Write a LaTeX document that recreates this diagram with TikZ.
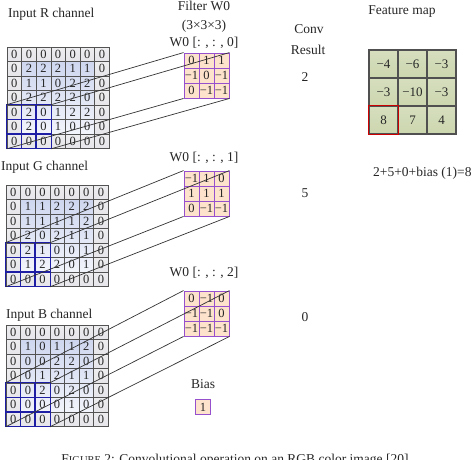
\documentclass[tikz,border=0pt]{standalone}
\usepackage{fontspec}
\setmainfont{Liberation Serif}
\usetikzlibrary{positioning}

\definecolor{inblue}{RGB}{184,196,232}
\definecolor{inedge}{RGB}{230,230,234}
\definecolor{filtfill}{RGB}{253,226,204}
\definecolor{filtline}{RGB}{150,80,205}
\definecolor{winblue}{RGB}{30,30,165}
\definecolor{fmfill}{RGB}{204,214,174}
\definecolor{fmline}{RGB}{80,80,80}

\tikzset{
  lab/.style={inner sep=0pt, text=black!85, font=\fontsize{13.5}{15}\selectfont},
  incell/.style={draw=gray!65!black, line width=0.6pt, minimum width=14.6pt,
    minimum height=14.5pt, inner sep=0pt, text=black!85, font=\fontsize{12.5}{13}\selectfont},
  filtcell/.style={draw=filtline, fill=filtfill, line width=0.9pt, minimum size=15pt,
    inner sep=0pt, text=black!85, font=\fontsize{12.5}{13}\selectfont},
  fmcell/.style={draw=fmline, line width=1.1pt, minimum width=29pt, minimum height=28pt,
    inner sep=0pt, top color=fmfill!80!white, bottom color=fmfill, text=black!85,
    font=\fontsize{13}{14}\selectfont},
  winline/.style={draw=winblue, line width=1pt},
  proj/.style={draw=black!80, line width=0.7pt}
}

% 7x7 input channel: name, left, top, rows
\newcommand{\inputgrid}[4]{
  \foreach \row [count=\r from 0] in {#4} {
    \foreach \v [count=\c from 0] in \row {
      \pgfmathtruncatemacro{\rim}{(\r==0)||(\r==6)||(\c==0)||(\c==6)}
      \pgfmathtruncatemacro{\pct}{78-10*\r}
      \pgfmathtruncatemacro{\pcb}{68-10*\r}
      \ifnum\rim=1
        \node[incell, top color=inedge!70!white, bottom color=inedge] (#1-\r-\c)
          at ({#2+14.6*(\c+0.5)},{#3+14.5*(\r+0.5)}) {\v};
      \else
        \node[incell, top color=inblue!\pct!white, bottom color=inblue!\pcb!white] (#1-\r-\c)
          at ({#2+14.6*(\c+0.5)},{#3+14.5*(\r+0.5)}) {\v};
      \fi
    }
  }
  \foreach \r in {4,5,6}
    \foreach \c in {0,1,2}
      \draw[winline] (#1-\r-\c.north west) rectangle (#1-\r-\c.south east);
}

% 3x3 filter slice: name, left, top, rows
\newcommand{\filtgrid}[4]{
  \foreach \row [count=\r from 0] in {#4} {
    \foreach \v [count=\c from 0] in \row {
      \node[filtcell] (#1-\r-\c) at ({#2+15*(\c+0.5)},{#3+15*(\r+0.5)}) {\v};
    }
  }
}

\begin{document}
\begin{tikzpicture}[x=1pt, y=-1pt]
\useasboundingbox (0,0) rectangle (474,459);

% input channels
\node[lab, anchor=west] (labR) at (8,14) {Input R channel};
\inputgrid{R}{7}{47}{{0,0,0,0,0,0,0},{0,2,2,2,1,1,0},{0,1,1,0,2,2,0},{0,2,2,2,2,0,0},{0,2,0,1,2,2,0},{0,2,0,1,0,0,0},{0,0,0,0,0,0,0}}
\node[lab, anchor=west] (labG) at (1,167) {Input G channel};
\inputgrid{G}{6}{185}{{0,0,0,0,0,0,0},{0,1,1,2,2,2,0},{0,1,1,1,1,2,0},{0,2,0,2,1,1,0},{0,2,1,0,0,1,0},{0,1,2,2,0,1,0},{0,0,0,0,0,0,0}}
\node[lab, anchor=west] (labB) at (6,315) {Input B channel};
\inputgrid{B}{6}{325}{{0,0,0,0,0,0,0},{0,1,0,1,1,2,0},{0,0,0,2,2,0,0},{0,0,1,2,1,1,0},{0,0,2,0,2,0,0},{0,0,0,0,1,0,0},{0,0,0,0,0,0,0}}

% filter
\node[lab] (filt) at (204,6) {Filter W0};
\node[lab] (dims) at (204,26) {(3×3×3)};
\node[lab] (w0) at (204,43) {W0 [: , : , 0]};
\filtgrid{fR}{184}{53}{{0,1,1},{−1,0,−1},{0,−1,−1}}
\node[lab] (w1) at (204,158) {W0 [: , : , 1]};
\filtgrid{fG}{184}{171}{{−1,1,0},{1,1,1},{0,−1,−1}}
\node[lab] (w2) at (204,273) {W0 [: , : , 2]};
\filtgrid{fB}{184}{291}{{0,−1,0},{−1,−1,0},{−1,−1,−1}}

% projection lines
\foreach \g in {R,G,B}
{
  \draw[proj] (\g-4-0.north west) -- (f\g-0-0.north west);
  \draw[proj] (\g-4-2.north east) -- (f\g-0-2.north east);
  \draw[proj] (\g-6-0.south west) -- (f\g-2-0.south west);
  \draw[proj] (\g-6-2.south east) -- (f\g-2-2.south east);
}

% bias
\node[lab] (biaslab) at (203,384) {Bias};
\node[filtcell] (bias) at (203,407) {1};

% conv results
\node[lab] (conv) at (309,29) {Conv};
\node[lab] (res) at (308,50) {Result};
\node[lab] (cR) at (305,77) {2};
\node[lab] (cG) at (305,193) {5};
\node[lab] (cB) at (305,317) {0};

% feature map
\node[lab] (fmlab) at (402,12) {Feature map};
\foreach \row [count=\r from 0] in {{−4,−6,−3},{−3,−10,−3},{8,7,4}}
{
  \foreach \v [count=\c from 0] in \row
    \node[fmcell] (fm-\r-\c) at ({369+29*(\c+0.5)},{50+28*(\r+0.5)}) {\v};
}
\draw[red!80!black, line width=1.2pt] (fm-2-0.north west) rectangle (fm-2-0.south east);
\node[lab, anchor=west] (sum) at (373,173) {2+5+0+bias (1)=8};

% caption (cut by the page edge)
\node[lab, anchor=base] (cap) at (235,463) {F{\fontsize{10.5}{12}\selectfont IGURE} 2: Convolutional operation on an RGB color image [20]};
\end{tikzpicture}
\end{document}
